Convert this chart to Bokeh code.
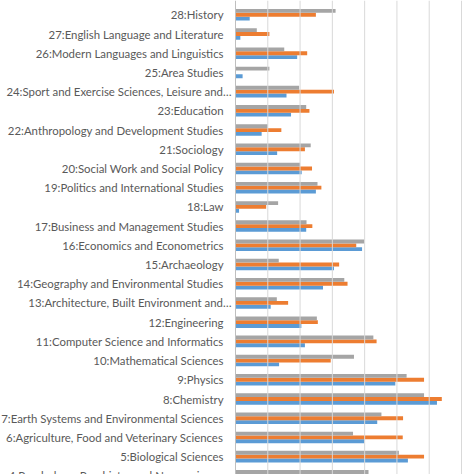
from bokeh.plotting import figure
from bokeh.models import ColumnDataSource, Range1d, Span
from bokeh.core.properties import value
from bokeh.transform import dodge
from bokeh.embed import file_html
from bokeh.resources import INLINE

# Units of assessment (number : shortened name as shown on the axis)
unit_numbers = [28, 27, 26, 25, 24, 23, 22, 21, 20, 19, 18, 17, 16,
                15, 14, 13, 12, 11, 10, 9, 8, 7, 6, 5, 4]
unit_labels = [
    "28:History",
    "27:English Language and Literature",
    "26:Modern Languages and Linguistics",
    "25:Area Studies",
    "24:Sport and Exercise Sciences, Leisure and\u2026",
    "23:Education",
    "22:Anthropology and Development Studies",
    "21:Sociology",
    "20:Social Work and Social Policy",
    "19:Politics and International Studies",
    "18:Law",
    "17:Business and Management Studies",
    "16:Economics and Econometrics",
    "15:Archaeology",
    "14:Geography and Environmental Studies",
    "13:Architecture, Built Environment and\u2026",
    "12:Engineering",
    "11:Computer Science and Informatics",
    "10:Mathematical Sciences",
    "9:Physics",
    "8:Chemistry",
    "7:Earth Systems and Environmental Sciences",
    "6:Agriculture, Food and Veterinary Sciences",
    "5:Biological Sciences",
    "4:Psychology, Psychiatry and Neuroscience",
]

# Three series per unit (bottom, middle, top bar of each group)
series_1 = [0.044, 0.015, 0.191, 0.022, 0.158, 0.172, 0.081, 0.129, 0.205,
            0.249, 0.011, 0.219, 0.392, 0.305, 0.271, 0.109, 0.204, 0.215,
            0.135, 0.495, 0.624, 0.439, 0.399, 0.534, 0.450]
series_2 = [0.249, 0.105, 0.222, 0.000, 0.305, 0.229, 0.142, 0.215, 0.237,
            0.266, 0.095, 0.238, 0.374, 0.321, 0.347, 0.163, 0.255, 0.437,
            0.295, 0.584, 0.639, 0.519, 0.518, 0.584, 0.490]
series_3 = [0.310, 0.066, 0.151, 0.105, 0.197, 0.219, 0.100, 0.233, 0.200,
            0.254, 0.132, 0.220, 0.399, 0.134, 0.337, 0.128, 0.252, 0.427,
            0.367, 0.530, 0.584, 0.452, 0.364, 0.506, 0.412]

grid_values = [0.1, 0.2, 0.3, 0.4, 0.5, 0.6, 0.7]

BLUE = "#5B9BD5"
ORANGE = "#ED7D31"
GRAY = "#A5A5A5"
LABEL_COLOR = "#595959"

W = 474
AXIS_PX = 235            # horizontal pixel of the value axis (x = 0)
PX_PER_UNIT = 226 / 0.7  # 0.1 per gridline, ~32.3 px apart

source = ColumnDataSource(dict(
    num=unit_numbers, label=unit_labels,
    s1=series_1, s2=series_2, s3=series_3,
    # shortened names run slightly further right
    shift=[8 if lab.endswith("\u2026") else 0 for lab in unit_labels],
))

p = figure(width=W, height=W,
           x_range=Range1d(-AXIS_PX / PX_PER_UNIT, (W - AXIS_PX) / PX_PER_UNIT),
           y_range=Range1d(4.07, 28.744),
           x_axis_location=None, y_axis_location=None,
           output_backend="svg", toolbar_location=None,
           min_border=0)
p.outline_line_color = None
p.background_fill_color = "white"
p.border_fill_color = "white"
p.grid.visible = False

# vertical gridlines and the category axis line
for gv in grid_values:
    p.add_layout(Span(location=gv, dimension="height",
                      line_color="#D9D9D9", line_width=1))
p.add_layout(Span(location=0, dimension="height", line_color="#BFBFBF", line_width=1))

bar_h = 0.2
p.hbar(y=dodge("num", -0.2), left=0, right="s1", height=bar_h,
       fill_color=BLUE, line_color=None, source=source)
p.hbar(y=dodge("num", 0.0), left=0, right="s2", height=bar_h,
       fill_color=ORANGE, line_color=None, source=source)
p.hbar(y=dodge("num", 0.2), left=0, right="s3", height=bar_h,
       fill_color=GRAY, line_color=None, source=source)

# category labels, right-aligned just left of the axis
p.text(x=-12 / PX_PER_UNIT, y="num", text="label", x_offset="shift", source=source,
       text_align="right", text_baseline="middle",
       text_font=value("Lato"), text_font_size="11.4px",
       text_color=LABEL_COLOR)

open("out.html", "w").write(file_html(p, INLINE))
